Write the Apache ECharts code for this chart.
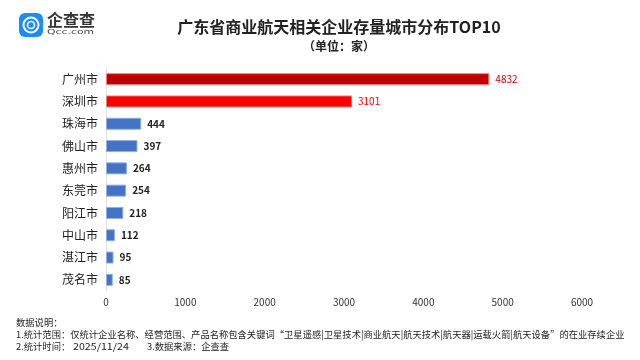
<!DOCTYPE html>
<html><head><meta charset="utf-8">
<script src="https://cdn.jsdelivr.net/npm/echarts@6/dist/echarts.min.js"></script>
<style>html,body{margin:0;padding:0;background:#fff}#c{width:640px;height:360px}</style>
</head><body><div id="c"></div>
<script>
const cities = ['广州市','深圳市','珠海市','佛山市','惠州市','东莞市','阳江市','中山市','湛江市','茂名市'];
const values = [4832,3101,444,397,264,254,218,112,95,85];
const barColors = ['#C00000','#FF0000','#4472C4','#4472C4','#4472C4','#4472C4','#4472C4','#4472C4','#4472C4','#4472C4'];
const labelColors = ['#C00000','#FF0000','#222','#222','#222','#222','#222','#222','#222','#222'];
const xTicks = [0,1000,2000,3000,4000,5000,6000];

const chart = echarts.init(document.getElementById('c'));
const font = '"Noto Sans CJK SC","Noto Sans",sans-serif';
chart.setOption({
  animation:false,
  textStyle:{fontFamily:font},
  title:[
    {text:'广东省商业航天相关企业存量城市分布TOP10', left:334, top:14, textAlign:'center',
     textStyle:{fontSize:16, fontWeight:'bold', color:'#222', fontFamily:font}},
    {text:'（单位：家）', left:334, top:35, textAlign:'center',
     textStyle:{fontSize:12, fontWeight:'bold', color:'#222', fontFamily:font}}
  ],
  grid:{left:106, right:58, top:68, bottom:69, containLabel:false},
  xAxis:{type:'value', min:xTicks[0], max:xTicks[xTicks.length-1], interval:1000,
    axisLine:{show:false}, axisTick:{show:false}, splitLine:{show:false},
    axisLabel:{color:'#333', fontSize:10, margin:6, formatter:v=>String(v)}},
  yAxis:{type:'category', inverse:true, data:cities,
    axisLine:{show:true, lineStyle:{color:'#e3e3e3'}}, axisTick:{show:false},
    axisLabel:{color:'#222', fontSize:12, margin:8}},
  series:[{type:'bar', barWidth:12,
    data: values.map((v,i)=>({value:v,
      itemStyle:{color:barColors[i], borderColor: i<2 ? '#f08080' : '#8fb0e8', borderWidth:1},
      label:{color:labelColors[i], fontWeight: i<2 ? 'normal':'bold'}})),
    label:{show:true, position:'right', distance:6, fontSize:10, formatter:p=>String(p.value)}
  }],
  graphic:[
    {type:'rect', shape:{x:19, y:13, width:24, height:24, r:6}, style:{fill:'#1a8cff'}},
    {type:'circle', shape:{cx:31, cy:25, r:7.5}, style:{fill:'none', stroke:'#fff', lineWidth:2}},
    {type:'circle', shape:{cx:31, cy:25, r:3.5}, style:{fill:'none', stroke:'#fff', lineWidth:1.6}},
    {type:'text', x:47, y:12, style:{text:'企查查', fill:'#333', font:'bold 16px '+font}},
    {type:'text', x:47, y:29, scaleX:1.55, style:{text:'Qcc.com', fill:'#444', font:'7px "DejaVu Sans"'}},
    {type:'text', x:16, y:318, style:{text:'数据说明：', fill:'#222', font:'9.3px '+font}},
    {type:'text', x:16, y:330, style:{text:'1.统计范围：仅统计企业名称、经营范围、产品名称包含关键词“卫星遥感|卫星技术|商业航天|航天技术|航天器|运载火箭|航天设备”的在业存续企业', fill:'#222', font:'9.3px '+font}},
    {type:'text', x:16, y:342, style:{text:'2.统计时间：', fill:'#222', font:'9.3px '+font}},
    {type:'text', x:73, y:342, scaleX:1.15, style:{text:'2025/11/24', fill:'#222', font:'9.3px '+font}},
    {type:'text', x:147, y:342, style:{text:'3.数据来源：企查查', fill:'#222', font:'9.3px '+font}}
  ]
});
</script></body></html>
